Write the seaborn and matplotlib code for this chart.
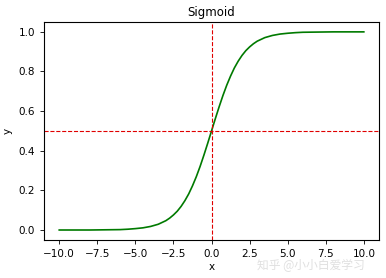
import matplotlib
matplotlib.use("Agg")
import matplotlib.pyplot as plt
import seaborn as sns
import pandas as pd

x_vals = [-10, -9, -8, -7, -6, -5.5, -5, -4.5, -4, -3.5, -3, -2.75, -2.5, -2.25, -2,
          -1.75, -1.5, -1.25, -1, -0.75, -0.5, -0.25, 0,
          0.25, 0.5, 0.75, 1, 1.25, 1.5, 1.75, 2, 2.25, 2.5, 2.75, 3, 3.5, 4, 4.5,
          5, 5.5, 6, 7, 8, 9, 10]
y_vals = [0.000, 0.000, 0.000, 0.001, 0.002, 0.004, 0.007, 0.011, 0.018, 0.029, 0.047,
          0.060, 0.076, 0.095, 0.119, 0.148, 0.182, 0.223, 0.269, 0.321, 0.378, 0.438, 0.500,
          0.562, 0.622, 0.679, 0.731, 0.777, 0.818, 0.852, 0.881, 0.905, 0.924, 0.940,
          0.953, 0.971, 0.982, 0.989, 0.993, 0.996, 0.998, 0.999, 1.000, 1.000, 1.000]
ref_x = 0
ref_y = 0.5
title = "Sigmoid"
watermark = "知乎 @小小白爱学习"

plt.rcParams['font.family'] = ['DejaVu Sans', 'Noto Sans CJK SC']
plt.rcParams['font.size'] = 7.5

df = pd.DataFrame({"x": x_vals, "y": y_vals})

fig = plt.figure(figsize=(3.86, 2.78), dpi=100)
ax = fig.add_axes([0.114, 0.137, 0.868, 0.784])
sns.lineplot(data=df, x="x", y="y", color="#007a00", linewidth=1.2, ax=ax)
ax.axvline(ref_x, color="#e00000", linestyle="--", linewidth=0.8)
ax.axhline(ref_y, color="#e00000", linestyle="--", linewidth=0.8)
ax.set_title(title, fontsize=8.5, pad=4)
ax.set_xlabel("x", fontsize=7.5, labelpad=2)
ax.set_ylabel("y", fontsize=7.5)
ax.set_xticks([-10, -7.5, -5, -2.5, 0, 2.5, 5, 7.5, 10])
ax.set_yticks([0.0, 0.2, 0.4, 0.6, 0.8, 1.0])
ax.tick_params(labelsize=7.5, length=3, width=0.6)
for s in ax.spines.values():
    s.set_linewidth(0.8)
fig.text(0.805, 0.045, watermark, fontsize=8.5, color="#e0e0e0",
         ha="center", va="center", family=['Noto Sans CJK SC', 'DejaVu Sans'])
fig.savefig("out.png", dpi=100)
